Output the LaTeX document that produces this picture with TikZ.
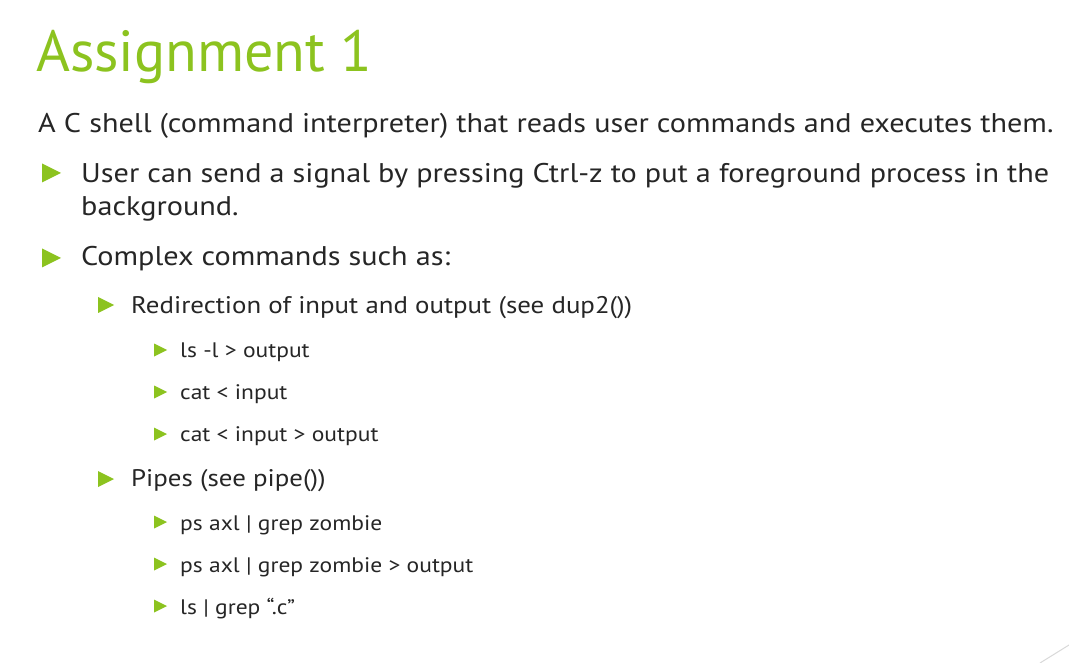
\documentclass[tikz,border=0pt]{standalone}
\usepackage{fontspec}
\setmainfont{PT Sans}
\newfontfamily\bodyfont[FakeStretch=1.12]{PT Sans}
\definecolor{lime}{HTML}{8CC31F}
\definecolor{txt}{HTML}{262626}
\tikzset{x=1pt,y=-1pt,
 t/.style={anchor=base west,inner sep=0,text=txt},
 la/.style={t,font=\bodyfont\fontsize{27}{30}\selectfont},
 lb/.style={t,font=\bodyfont\fontsize{24}{27}\selectfont},
 lc/.style={t,font=\bodyfont\fontsize{21}{24}\selectfont},
 tri/.style={fill=lime}}
\newcommand\bul[3]{\fill[tri] (#1,#2-#3/2) -- (#1+#3,#2) -- (#1,#2+#3/2) -- cycle;}
\begin{document}
\begin{tikzpicture}
\useasboundingbox[fill=white] (0,0) rectangle (1069,663);
\node[t,text=lime,font=\fontsize{58}{60}\selectfont] (title) at (36,72) {Assignment 1};
\node[la] (l0) at (38,133) {A C shell (command interpreter) that reads user commands and executes them.};
\bul{42}{173}{19}
\node[la] (l1) at (81,183) {User can send a signal by pressing Ctrl-z to put a foreground process in the};
\node[la] (l1b) at (81,216) {background.};
\bul{42}{258}{19}
\node[la] (l2) at (81,266) {Complex commands such as:};
\bul{98}{305}{16}
\node[lb] (l3) at (131,313) {Redirection of input and output (see dup2())};
\bul{154}{350}{13}
\node[lc] (a1) at (180,357) {ls -l > output};
\bul{154}{392}{13}
\node[lc] (a2) at (180,399) {cat < input};
\bul{154}{434}{13}
\node[lc] (a3) at (180,441) {cat < input > output};
\bul{98}{479}{16}
\node[lb] (l4) at (131,486) {Pipes (see pipe())};
\bul{154}{522}{13}
\node[lc] (b1) at (180,530) {ps axl | grep zombie};
\bul{154}{564}{13}
\node[lc] (b2) at (180,572) {ps axl | grep zombie > output};
\bul{154}{606}{13}
\node[lc] (b3) at (180,614) {ls | grep “.c”};
\draw[gray!30,line width=1] (1040,663) -- (1069,645);
\end{tikzpicture}
\end{document}
